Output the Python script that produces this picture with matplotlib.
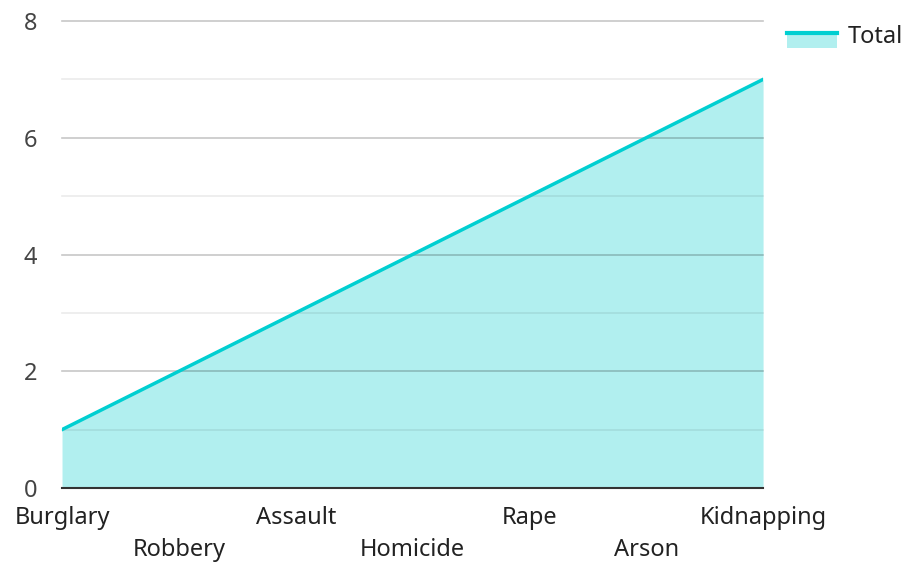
import matplotlib.pyplot as plt
from matplotlib.patches import Rectangle
from matplotlib.lines import Line2D

plt.rcParams['font.family'] = ['Noto Sans', 'DejaVu Sans']

# data
crimes = ["Burglary", "Robbery", "Assault", "Homicide", "Rape", "Arson", "Kidnapping"]
totals = [1, 2, 3, 4, 5, 6, 7]

line_color = "#00cfd1"
fill_color = "#b1efef"
text_color = "#444444"


class AreaHandler:
    # legend swatch: filled box with the line along its top edge
    def legend_artist(self, legend, orig_handle, fontsize, handlebox):
        x0, y0 = handlebox.xdescent, handlebox.ydescent
        w, h = handlebox.width, handlebox.height
        top = y0 + h * 0.42
        rect = Rectangle((x0, top - h * 0.75), w, h * 0.75, facecolor=fill_color,
                         edgecolor='none', transform=handlebox.get_transform())
        ln = Line2D([x0, x0 + w], [top, top], color=line_color,
                    linewidth=3, transform=handlebox.get_transform())
        handlebox.add_artist(rect)
        handlebox.add_artist(ln)
        return rect


fig = plt.figure(figsize=(9.04, 5.62), dpi=100)
ax = fig.add_axes([0.0686, 0.1317, 0.7755, 0.8309])

x = list(range(len(crimes)))
ax.fill_between(x, 0, totals, color=fill_color, linewidth=0, zorder=1)
area, = ax.plot(x, totals, color=line_color, linewidth=2.5, zorder=3)

ax.set_xlim(0, len(crimes) - 1)
ax.set_ylim(0, 8)

# grid lines drawn on top of the fill
for v in range(1, 9):
    major = v % 2 == 0
    ax.axhline(v, color="black", alpha=0.22 if major else 0.08,
               linewidth=1.2, zorder=2, clip_on=False)
ax.axhline(0, color="#333333", linewidth=1.5, zorder=4, clip_on=False)

for s in ax.spines.values():
    s.set_visible(False)

ax.set_yticks([0, 2, 4, 6, 8])
ax.tick_params(axis='y', length=0, pad=18, labelsize=17, labelcolor=text_color)
ax.tick_params(axis='x', length=0, pad=0)
ax.set_xticks(x)
ax.set_xticklabels([])

# staggered category labels
for i, name in enumerate(crimes):
    ax.annotate(name, xy=(i, 0), xycoords=('data', 'axes fraction'),
                xytext=(0, -18 if i % 2 == 0 else -50), textcoords='offset pixels',
                ha='center', va='top', fontsize=17, color='#222222')

fig.legend([area], ["Total"], loc='upper left', bbox_to_anchor=(0.871, 0.956),
           frameon=False, fontsize=17, handlelength=2.1, handleheight=0.9,
           handletextpad=0.45, handler_map={Line2D: AreaHandler()},
           labelcolor='#222222', borderaxespad=0, borderpad=0)

fig.savefig("out.png", dpi=100)
